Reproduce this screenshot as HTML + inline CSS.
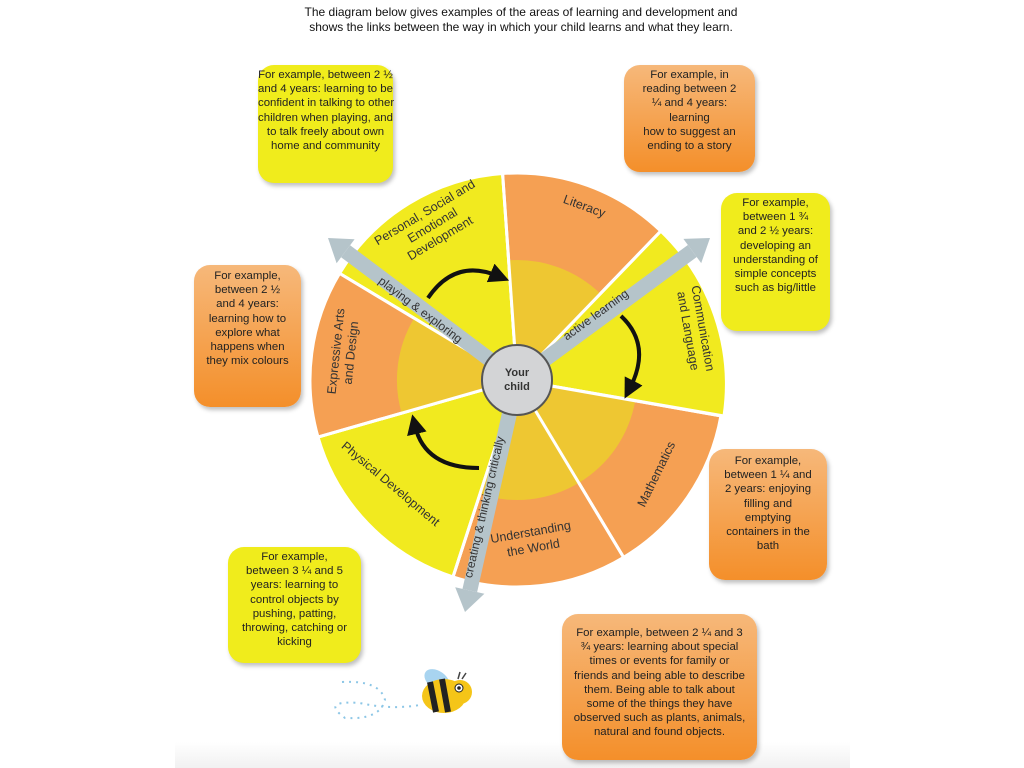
<!DOCTYPE html>
<html><head><meta charset="utf-8"><style>
body{margin:0;width:1024px;height:768px;background:#fff;position:relative;overflow:hidden;font-family:"Liberation Sans",sans-serif;}
.hdr{position:absolute;left:0;width:1042px;text-align:center;font-size:12px;color:#111;top:5px;line-height:15px}
.box{position:absolute;border-radius:16px;box-shadow:2px 3px 4px rgba(0,0,0,0.25);font-size:11.4px;line-height:14.2px;text-align:center;color:#222;box-sizing:border-box;padding:3px 0;white-space:nowrap}
.y{background:#f0ec1c}
.o{background:linear-gradient(#f6b87a,#f48f2a)}
.bot{position:absolute;left:175px;top:742px;width:675px;height:26px;background:linear-gradient(#fff,#f1f1f1)}
</style></head><body>
<div class="bot"></div>
<div class="hdr">The diagram below gives examples of the areas of learning and development and<br>shows the links between the way in which your child learns and what they learn.</div>

<svg width="1024" height="768" style="position:absolute;left:0;top:0">
<defs>
<marker id="ah" markerWidth="5" markerHeight="5" refX="2" refY="2.5" orient="auto"><path d="M0,0 L5,2.5 L0,5 Z" fill="#111"/></marker>
</defs>
<g stroke="#fff" stroke-width="3" stroke-linejoin="round">
<path d="M517,380 L339.6,273.4 A207,207 0 0 1 502.6,173.5 Z" fill="#f1ea1f"/>
<path d="M517,380 L502.6,173.5 A207,207 0 0 1 660.8,231.1 Z" fill="#f5a053"/>
<path d="M517,380 L660.8,231.1 A212,212 0 0 1 724,416 Z" fill="#f1ea1f"/>
<path d="M517,380 L720.9,415.9 A207,207 0 0 1 623.6,557.4 Z" fill="#f5a053"/>
<path d="M517,380 L623.6,557.4 A207,207 0 0 1 453,576.9 Z" fill="#f5a053"/>
<path d="M517,380 L453,576.9 A207,207 0 0 1 318,437.1 Z" fill="#f1ea1f"/>
<path d="M517,380 L318,437.1 A207,207 0 0 1 339.6,273.4 Z" fill="#f5a053"/>
</g>
<g fill="#eec732">
<path d="M517,380 L508.6,260.3 A120,120 0 0 1 600.4,293.7 Z"/>
<path d="M517,380 L635.2,400.8 A120,120 0 0 1 578.8,482.9 Z"/>
<path d="M517,380 L578.8,482.9 A120,120 0 0 1 479.9,494.1 Z"/>
<path d="M517,380 L401.6,413.1 A120,120 0 0 1 414.1,318.2 Z"/>
</g>
<g stroke="#fff" stroke-width="3">
<line x1="517" y1="380" x2="502.6" y2="173.5"/><line x1="517" y1="380" x2="660.8" y2="231.1"/>
<line x1="517" y1="380" x2="720.9" y2="415.9"/><line x1="517" y1="380" x2="623.6" y2="557.4"/>
<line x1="517" y1="380" x2="453" y2="576.9"/><line x1="517" y1="380" x2="318" y2="437.1"/>
<line x1="517" y1="380" x2="339.6" y2="273.4"/>
</g>
<g stroke="#b5c4ca" stroke-width="15">
<line x1="517" y1="380" x2="345.6" y2="251.2"/>
<line x1="517" y1="380" x2="692.3" y2="251"/>
<line x1="517" y1="380" x2="469.8" y2="590.5"/>
</g>
<g fill="#b5c4ca">
<polygon points="328,238 354.6,239.2 336.6,263.2"/>
<polygon points="710,238 701.2,263.1 683.4,238.9"/>
<polygon points="465,612 484.4,593.8 455.2,587.2"/>
</g>
<g font-size="12" fill="#333" text-anchor="middle">
<text transform="translate(418,313) rotate(37)">playing &amp; exploring</text>
<text transform="translate(598,318) rotate(-36)">active learning</text>
<text transform="translate(488,508) rotate(-77)">creating &amp; thinking critically</text>
</g>
<g fill="none" stroke="#111" stroke-width="4">
<path d="M428,298 Q455,258 498,276" marker-end="url(#ah)"/>
<path d="M621,316 Q652,345 630,388" marker-end="url(#ah)"/>
<path d="M479,468 Q425,468 415,426" marker-end="url(#ah)"/>
</g>
<circle cx="517" cy="380" r="35" fill="#d3d4d6" stroke="#555" stroke-width="2"/>
<text x="517" y="376" font-size="11" font-weight="bold" text-anchor="middle" fill="#333">Your</text>
<text x="517" y="390" font-size="11" font-weight="bold" text-anchor="middle" fill="#333">child</text>
<g font-size="12.5" fill="#333" text-anchor="middle">
<text transform="translate(434,228) rotate(-31)"><tspan x="0" y="-14">Personal, Social and</tspan><tspan x="0" y="1">Emotional</tspan><tspan x="0" y="16">Development</tspan></text>
<text transform="translate(583,210) rotate(20)">Literacy</text>
<text transform="translate(693,330) rotate(80)"><tspan x="0" y="-6">Communication</tspan><tspan x="0" y="9">and Language</tspan></text>
<text transform="translate(660,476) rotate(-64)">Mathematics</text>
<text transform="translate(532,540) rotate(-10)"><tspan x="0" y="-4">Understanding</tspan><tspan x="0" y="12">the World</tspan></text>
<text transform="translate(388,487) rotate(40)">Physical Development</text>
<text transform="translate(343,352) rotate(-84)"><tspan x="0" y="-3">Expressive Arts</tspan><tspan x="0" y="12">and Design</tspan></text>
</g>
<path d="M342,682 Q380,680 385,700 Q380,720 345,718 Q320,700 360,703 Q390,710 420,705" fill="none" stroke="#8cc6e6" stroke-width="2" stroke-dasharray="2,5"/>
<ellipse cx="437" cy="680" rx="14" ry="9" fill="#a8d4f0" transform="rotate(35 437 680)"/>
<ellipse cx="444" cy="696" rx="22" ry="17" fill="#f5c518"/>
<path d="M430,682 L436,712 M442,679 L448,712" stroke="#222" stroke-width="6"/>
<circle cx="460" cy="692" r="12" fill="#f5c518"/>
<circle cx="459" cy="688" r="4" fill="#fff" stroke="#222"/><circle cx="459" cy="688" r="1.8" fill="#222"/>
<path d="M458,679 L460,672 M462,679 L466,673" stroke="#444" stroke-width="1.5"/>
</svg>

<div class="box y" style="left:258px;top:65px;width:135px;height:118px">For example, between 2 ½<br>and 4 years: learning to be<br>confident in talking to other<br>children when playing, and<br>to talk freely about own<br>home and community</div>
<div class="box o" style="left:624px;top:65px;width:131px;height:107px">For example, in<br>reading between 2<br>¼ and 4 years:<br>learning<br>how to suggest an<br>ending to a story</div>
<div class="box y" style="left:721px;top:193px;width:109px;height:138px;padding-top:3px">For example,<br>between 1 ¾<br>and 2 ½ years:<br>developing an<br>understanding of<br>simple concepts<br>such as big/little</div>
<div class="box o" style="left:194px;top:265px;width:107px;height:142px;padding-top:4px">For example,<br>between 2 ½<br>and 4 years:<br>learning how to<br>explore what<br>happens when<br>they mix colours</div>
<div class="box o" style="left:709px;top:449px;width:118px;height:131px;padding-top:5px">For example,<br>between 1 ¼ and<br>2 years: enjoying<br>filling and<br>emptying<br>containers in the<br>bath</div>
<div class="box y" style="left:228px;top:547px;width:133px;height:116px;padding-top:3px">For example,<br>between 3 ¼ and 5<br>years: learning to<br>control objects by<br>pushing, patting,<br>throwing, catching or<br>kicking</div>
<div class="box o" style="left:562px;top:614px;width:195px;height:146px;padding-top:12px">For example, between 2 ¼ and 3<br>¾ years: learning about special<br>times or events for family or<br>friends and being able to describe<br>them. Being able to talk about<br>some of the things they have<br>observed such as plants, animals,<br>natural and found objects.</div>
</body></html>
